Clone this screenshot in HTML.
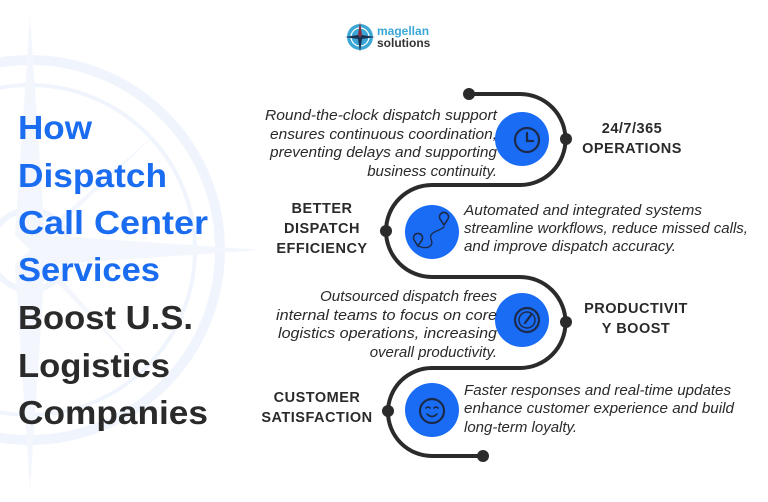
<!DOCTYPE html>
<html><head><meta charset="utf-8"><style>
html,body{margin:0;padding:0;background:#fff;}
svg{display:block;}
.t{font-family:"Liberation Sans",sans-serif;font-weight:bold;font-size:33px;}
.d{font-family:"Liberation Sans",sans-serif;font-style:italic;font-size:15px;fill:#2a2a2a;}
.l{font-family:"Liberation Sans",sans-serif;font-weight:bold;font-size:14.5px;fill:#2a2a2a;letter-spacing:0.5px;}
</style></head><body>
<svg width="768" height="502" viewBox="0 0 768 502" xmlns="http://www.w3.org/2000/svg">
<g fill="none" stroke="#f0f5fd" stroke-width="10">
<circle cx="30" cy="250" r="190"/>
<circle cx="30" cy="250" r="165" stroke-width="4"/>
<circle cx="30" cy="250" r="40" stroke-width="6"/>
</g>
<g fill="#f3f7fd">
<polygon points="30,15 45,235 30,250 15,235"/>
<polygon points="30,490 45,265 30,250 15,265"/>
<polygon points="262,250 45,235 30,250 45,265"/>
<polygon points="160,130 45,240 40,235"/>
<polygon points="150,380 45,260 40,265"/>
</g>
<circle cx="360" cy="37" r="13" fill="#3aa7d6"/>
<circle cx="360" cy="37" r="9" fill="none" stroke="#fff" stroke-width="1.2"/>
<polygon points="360,22 362,35 360,37 358,35" fill="#8b2c3c"/>
<polygon points="360,52 362,39 360,37 358,39" fill="#1a3050"/>
<polygon points="345,37 358,35 360,37 358,39" fill="#1a3050"/>
<polygon points="375,37 362,35 360,37 362,39" fill="#1a3050"/>
<text x="377" y="35" font-family="Liberation Sans,sans-serif" font-weight="bold" font-size="12" fill="#3aa7d6">magellan</text>
<text x="377" y="47" font-family="Liberation Sans,sans-serif" font-weight="bold" font-size="12" fill="#333">solutions</text>
<g class="t">
<text x="18" y="139" fill="#1a6cf0" textLength="74" lengthAdjust="spacingAndGlyphs">How</text>
<text x="18" y="187" fill="#1a6cf0" textLength="149" lengthAdjust="spacingAndGlyphs">Dispatch</text>
<text x="18" y="234" fill="#1a6cf0" textLength="190" lengthAdjust="spacingAndGlyphs">Call Center</text>
<text x="18" y="281" fill="#1a6cf0" textLength="142" lengthAdjust="spacingAndGlyphs">Services</text>
<text x="18" y="329" fill="#2a2a2a" textLength="175" lengthAdjust="spacingAndGlyphs">Boost U.S.</text>
<text x="18" y="377" fill="#2a2a2a" textLength="152" lengthAdjust="spacingAndGlyphs">Logistics</text>
<text x="18" y="424" fill="#2a2a2a" textLength="190" lengthAdjust="spacingAndGlyphs">Companies</text>
</g>
<path d="M469,94 H520 A45.5,45.5 0 0 1 520,185 H432 A46,46 0 0 0 432,277 H520 A45.5,45.5 0 0 1 520,368 H432 A44,44 0 0 0 432,456 H483" fill="none" stroke="#2b2b2b" stroke-width="4"/>
<g fill="#2b2b2b">
<circle cx="469" cy="94" r="6"/><circle cx="566" cy="139" r="6"/><circle cx="386" cy="231" r="6"/>
<circle cx="566" cy="322" r="6"/><circle cx="388" cy="411" r="6"/><circle cx="483" cy="456" r="6"/>
</g>
<g fill="#1a6cf5">
<circle cx="522" cy="139" r="27"/><circle cx="432" cy="232" r="27"/>
<circle cx="522" cy="320" r="27"/><circle cx="432" cy="410" r="27"/>
</g>
<g fill="none" stroke="#1c2a4a" stroke-width="2.2" stroke-linecap="round">
<circle cx="527" cy="140" r="12"/><path d="M527,133 V141 H533"/>
<path d="M418,246 C428,250 434,246 431,239 C428,232 440,231 444,227" stroke-width="1.3"/>
<circle cx="527" cy="320" r="12"/><circle cx="527" cy="320" r="8" stroke-width="1.5"/><path d="M525,323 L531,315"/>
<circle cx="432" cy="411" r="12"/><path d="M426,408 q2,-2 4,0 M434,408 q2,-2 4,0 M427,414 q5,5 10,0" stroke-width="1.6"/>
</g>
<g fill="none" stroke="#1c2a4a" stroke-width="1.6">
<path d="M444,225 L440,219 A4.5,4.5 0 1 1 448,219 Z"/>
<path d="M418,246 L414,240 A4.5,4.5 0 1 1 422,240 Z"/>
</g>
<g class="d" text-anchor="end">
<text x="497" y="120" textLength="232" lengthAdjust="spacingAndGlyphs">Round-the-clock dispatch support</text>
<text x="497" y="139" textLength="227" lengthAdjust="spacingAndGlyphs">ensures continuous coordination,</text>
<text x="497" y="157" textLength="227" lengthAdjust="spacingAndGlyphs">preventing delays and supporting</text>
<text x="497" y="176">business continuity.</text>
<text x="497" y="301" textLength="177" lengthAdjust="spacingAndGlyphs">Outsourced dispatch frees</text>
<text x="497" y="320" textLength="221" lengthAdjust="spacingAndGlyphs">internal teams to focus on core</text>
<text x="497" y="338" textLength="219" lengthAdjust="spacingAndGlyphs">logistics operations, increasing</text>
<text x="497" y="357">overall productivity.</text>
</g>
<g class="d">
<text x="464" y="215" textLength="238" lengthAdjust="spacingAndGlyphs">Automated and integrated systems</text>
<text x="464" y="233" textLength="284" lengthAdjust="spacingAndGlyphs">streamline workflows, reduce missed calls,</text>
<text x="464" y="251" textLength="212" lengthAdjust="spacingAndGlyphs">and improve dispatch accuracy.</text>
<text x="464" y="395" textLength="267" lengthAdjust="spacingAndGlyphs">Faster responses and real-time updates</text>
<text x="464" y="413" textLength="270" lengthAdjust="spacingAndGlyphs">enhance customer experience and build</text>
<text x="464" y="432">long-term loyalty.</text>
</g>
<g class="l" text-anchor="middle">
<text x="632" y="133">24/7/365</text>
<text x="632" y="153">OPERATIONS</text>
<text x="322" y="213">BETTER</text>
<text x="322" y="233">DISPATCH</text>
<text x="322" y="253">EFFICIENCY</text>
<text x="636" y="313">PRODUCTIVIT</text>
<text x="636" y="333">Y BOOST</text>
<text x="317" y="402">CUSTOMER</text>
<text x="317" y="422">SATISFACTION</text>
</g>
</svg>
</body></html>
